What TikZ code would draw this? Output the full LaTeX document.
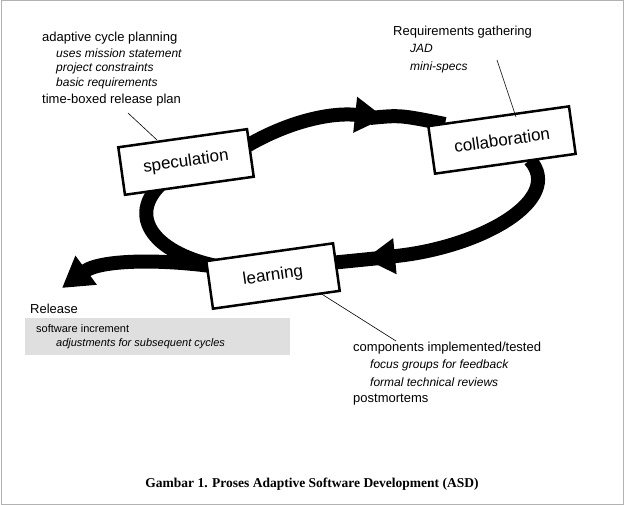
\documentclass[tikz,border=0pt]{standalone}
\usepackage{fontspec}
\setmainfont{Liberation Sans}
\newfontfamily\capfont{Liberation Serif}
\usetikzlibrary{arrows.meta}
\begin{document}
\begin{tikzpicture}[x=1pt,y=-1pt,
  txt/.style={anchor=west,inner sep=0pt,font=\fontsize{13}{15}\selectfont},
  sub/.style={anchor=west,inner sep=0pt,font=\fontsize{12}{14}\selectfont\itshape},
  phase/.style={draw,line width=2.5pt,fill=white,rotate=8,minimum height=48pt,font=\fontsize{17}{19}\selectfont,inner xsep=12pt},
  big/.style={line width=14pt,black},
  tip/.style={-{Triangle[length=30pt,width=34pt]}},
  lead/.style={line width=0.6pt}]
\useasboundingbox (0,0) rectangle (624,505);
\draw[gray!60,line width=1pt] (1,1) rectangle (623,504);
% arrows
\draw[big,tip] (240,150) .. controls (285,122) and (330,112) .. (385,118);
\draw[big] (370,118) .. controls (400,115) .. (445,124);
\draw[big,tip] (530,160) .. controls (565,200) and (480,248) .. (365,259);
\draw[big] (380,258) -- (330,263);
\draw[big] (160,185) .. controls (125,220) and (160,258) .. (228,268);
\draw[big,tip] (225,268) .. controls (160,258) and (100,260) .. (62,288);
% boxes
\node[phase,minimum width=130pt] (spec) at (186,162) {speculation};
\node[phase,minimum width=142pt] (coll) at (502,140) {collaboration};
\node[phase,minimum width=128pt] (learn) at (273,276) {learning};
% texts
\node[txt] (t1) at (42,38) {adaptive cycle planning};
\node[sub] at (56,53) {uses mission statement};
\node[sub] at (56,68) {project constraints};
\node[sub] at (56,83) {basic requirements};
\node[txt] (t2) at (42,100) {time-boxed release plan};
\coordinate (c1) at (128,113);
\draw[lead] (157,140) -- (c1);
\node[txt] at (393,32) {Requirements gathering};
\node[sub] at (410,48) {JAD};
\node[sub] (ms) at (410,67) {mini-specs};
\coordinate (c2) at (497,60);
\draw[lead] (c2) -- (516,117);
\node[txt] at (30,309) {Release};
\node[fill=gray!25,minimum width=265pt,minimum height=37pt,anchor=north west,inner sep=0pt] (rb) at (25,318) {};
\node[txt,font=\fontsize{11}{12}\selectfont] at (36,329) {software increment};
\node[sub,font=\fontsize{11}{12}\selectfont\itshape] at (56,344) {adjustments for subsequent cycles};
\coordinate (c3) at (396,341);
\draw[lead] (320,293) -- (c3);
\node[txt] at (353,348) {components implemented/tested};
\node[sub] at (370,365) {focus groups for feedback};
\node[sub] at (370,382) {formal technical reviews};
\node[txt] at (353,400) {postmortems};
\node[font=\capfont\bfseries\fontsize{13.5}{15}\selectfont] (cap) at (312,484) {Gambar 1. Proses Adaptive Software Development (ASD)};
\end{tikzpicture}
\end{document}
